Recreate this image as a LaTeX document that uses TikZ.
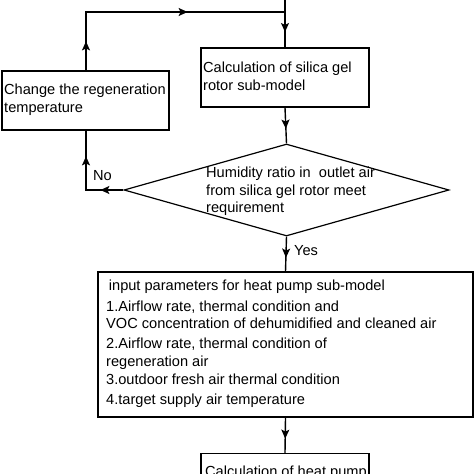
\documentclass[tikz,border=0pt]{standalone}
\usepackage{fontspec}
\setmainfont{Liberation Sans}
\usetikzlibrary{shapes.geometric,arrows.meta,decorations.markings}
\begin{document}
\begin{tikzpicture}[x=1pt,y=-1pt,
  every node/.style={font=\fontsize{14.6}{17.6}\selectfont},
  line/.style={line width=1.4pt},
  boxnode/.style={draw,line width=1.2pt,rectangle,inner sep=0pt},
  txt/.style={anchor=west,align=left,inner sep=0pt},
  tipmark/.style={postaction={decorate},decoration={markings,
     mark=at position #1 with {\arrow{Stealth[length=9pt,width=8pt,inset=2pt]}}}},
  twomarks/.style 2 args={postaction={decorate},decoration={markings,
     mark=at position #1 with {\arrow{Stealth[length=9pt,width=8pt,inset=2pt]}},
     mark=at position #2 with {\arrow{Stealth[length=9pt,width=8pt,inset=2pt]}}}}
]
\useasboundingbox (0,0) rectangle (474,474);
\fill[white] (0,0) rectangle (474,474);

\node[boxnode,minimum width=168pt,minimum height=59pt] (silica) at (285,77.5) {};
\node[txt] (silicatext) at (203,76)
  {Calculation of silica gel\\rotor sub-model};
\node[boxnode,minimum width=167pt,minimum height=59pt] (change) at (85.5,100.5) {};
\node[txt] (changetext) at (4,99.5)
  {Change the regeneration\\temperature};
\node[diamond,draw,line width=1.2pt,inner sep=0pt,minimum width=325pt,minimum height=92pt] (dia) at (286.5,190) {};
\node[txt] (diatext) at (206,191.5)
  {Humidity ratio in\ \ outlet air\\from silica gel rotor meet\\requirement};
\node[boxnode,minimum width=375pt,minimum height=145pt] (input) at (285.5,344.5) {};
\node[txt] (inputtext) at (106,344)
  {\hspace{2.7pt}input parameters for heat pump sub-model\\[2.5pt]
   1.Airflow rate, thermal condition and\\
   VOC concentration of dehumidified and cleaned air\\[2.5pt]
   2.Airflow rate, thermal condition of\\
   regeneration air\\[1pt]
   3.outdoor fresh air thermal condition\\[2pt]
   4.target supply air temperature};
\node[boxnode,minimum width=168pt,minimum height=59pt,anchor=north] (heat) at (285,453) {};
\node[txt] (heattext) at (205,472.5) {Calculation of heat pump};

\node (no) at (102.5,176) {No};
\node (yes) at (306,251) {Yes};

\coordinate (top) at (285,0);
\coordinate (junction) at (285,12);
\coordinate (lefttop) at (86,12);
\coordinate (leftbot) at (86,190);

\draw[line,tipmark=32pt] (top) -- (silica.north);
\draw[line,twomarks={29pt}{160pt}] (change.north -| lefttop) -- (lefttop) -- (junction);
\draw[line,tipmark=21pt] (silica.south) -- (dia.north);
\draw[line,twomarks={23pt}{71pt}] (dia.west) -- (leftbot) -- (change.south -| leftbot);
\draw[line,tipmark=21pt] (dia.south) -- (input.north);
\draw[line,tipmark=21pt] (input.south) -- (heat.north);
\end{tikzpicture}
\end{document}
